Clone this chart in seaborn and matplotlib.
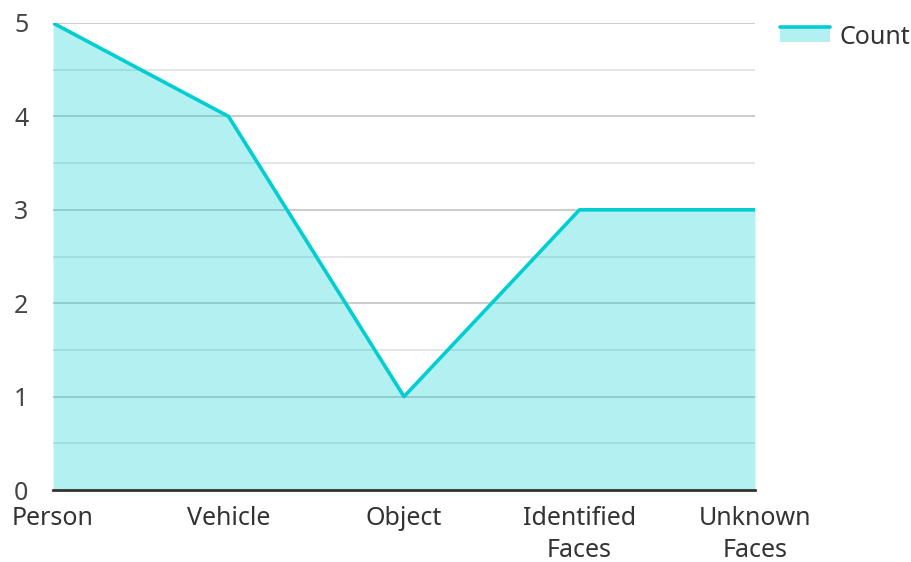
import matplotlib
matplotlib.use("Agg")
import matplotlib.pyplot as plt
import seaborn as sns
import pandas as pd
from matplotlib.lines import Line2D
from matplotlib.patches import Rectangle
from matplotlib.legend_handler import HandlerBase

categories = ["Person", "Vehicle", "Object", "Identified\nFaces", "Unknown\nFaces"]
counts = [5, 4, 1, 3, 3]
y_ticks = [0, 1, 2, 3, 4, 5]

LINE = "#00CED1"
FS = 18

sns.set_theme(style="white")
plt.rcParams['font.family'] = ['Noto Sans', 'DejaVu Sans']

df = pd.DataFrame({"x": range(len(categories)), "Count": counts})

fig = plt.figure(figsize=(9.12, 5.62), dpi=100)
ax = fig.add_axes([53/912, 1-490/562, (755-53)/912, (490-23)/562])

ax.set_axisbelow(True)
for v in [0.5, 1.5, 2.5, 3.5, 4.5]:
    ax.axhline(v, color="#e3e3e3", lw=1.3, zorder=0)
for v in y_ticks[1:]:
    ax.axhline(v, color="#c8c8c8", lw=1.3, zorder=0)

ax.fill_between(df["x"], df["Count"], 0, color=LINE, alpha=0.3, lw=0, zorder=1)
sns.lineplot(data=df, x="x", y="Count", ax=ax, color=LINE, lw=2.6, zorder=3, legend=False)

ax.set_xlim(0, len(categories) - 1)
ax.set_ylim(0, 5)
ax.set_xticks(range(len(categories)))
ax.set_xticklabels(categories, fontsize=FS, color="#333333", linespacing=1.36, va="top")
ax.set_yticks(y_ticks)
ax.set_yticklabels([str(t) for t in y_ticks], fontsize=FS, color="#444444", ha="left")
ax.tick_params(axis="y", length=0, pad=28)
ax.tick_params(axis="x", length=0, pad=11.5)
ax.set_xlabel("")
ax.set_ylabel("")
for s in ["top", "right", "left"]:
    ax.spines[s].set_visible(False)
ax.spines["bottom"].set_color("#333333")
ax.spines["bottom"].set_linewidth(2)
ax.spines["bottom"].set_zorder(5)


class AreaHandler(HandlerBase):
    def create_artists(self, legend, orig_handle, xdescent, ydescent, width, height, fontsize, trans):
        r = Rectangle((-xdescent, -ydescent), width, height * 1.1, facecolor=LINE, alpha=0.3, lw=0, transform=trans)
        l = Line2D([-xdescent, -xdescent + width], [-ydescent + height * 1.1] * 2, color=LINE, lw=2.6, transform=trans)
        return [r, l]


h = Rectangle((0, 0), 1, 1)
leg = fig.legend([h], ["Count"], handler_map={Rectangle: AreaHandler()},
                 loc="upper left", bbox_to_anchor=(775/912, 1-20/562), frameon=False,
                 fontsize=FS, handlelength=2.0, handleheight=0.5, handletextpad=0.4,
                 borderaxespad=0, borderpad=0.2)
for t in leg.get_texts():
    t.set_color("#333333")

fig.savefig("out.png", dpi=100)
